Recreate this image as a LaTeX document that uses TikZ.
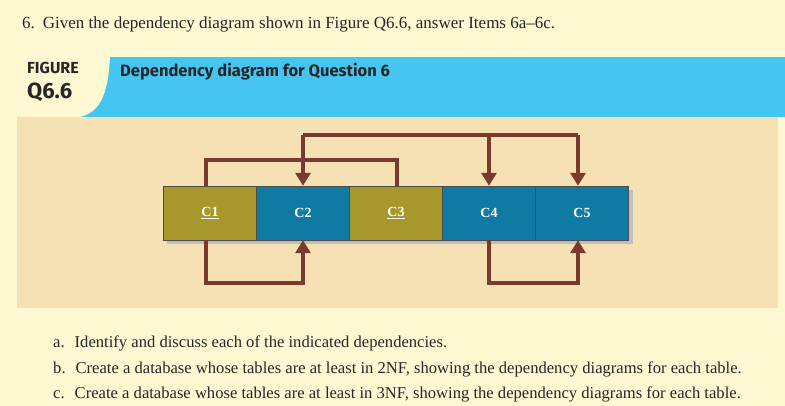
\documentclass[tikz,border=0pt]{standalone}
\usepackage{fontspec}
\setmainfont{Liberation Serif}
\newfontfamily\hdr{Fira Sans}
\usetikzlibrary{arrows.meta}
\definecolor{paper}{HTML}{FEF8D2}
\definecolor{band}{HTML}{45C6F2}
\definecolor{beige}{HTML}{F5E1B3}
\definecolor{olive}{HTML}{A8982C}
\definecolor{teal}{HTML}{0F7BA3}
\definecolor{arr}{HTML}{7B3A2E}
\tikzset{
  attr/.style={draw=black!70, minimum width=93pt, minimum height=54pt, inner sep=0pt, text=white, font=\bfseries\fontsize{14}{16}\selectfont},
  dep/.style={draw=arr, line width=4pt},
  deparr/.style={dep, -{Triangle[width=15pt,length=13pt]}},
  item/.style={anchor=west, font=\fontsize{16.6}{19}\selectfont, text=black!85, inner sep=0pt}
}
\begin{document}
\begin{tikzpicture}[x=1pt,y=-1pt]
\useasboundingbox (0,0) rectangle (785,406);
\fill[paper] (0,0) rectangle (785,406);
\fill[band] (17,57) rectangle (785,117);
\fill[paper] (17,57) -- (110,57) .. controls (108,95) and (100,112) .. (80,117) -- (17,117) -- cycle;
\fill[beige] (17,117) rectangle (778,308);
\node[item, font=\fontsize{17}{20}\selectfont] (q) at (22,24) {6.\hspace{8pt}Given the dependency diagram shown in Figure Q6.6, answer Items 6a--6c.};
\node[anchor=north west, inner sep=0pt, text=black!85, font=\hdr\bfseries\fontsize{16}{18}\selectfont] (fig) at (27,62) {FIGURE};
\node[anchor=north west, inner sep=0pt, text=black!85, font=\hdr\bfseries\fontsize{22}{24}\selectfont] (q66) at (27,83) {Q6.6};
\node[anchor=west, inner sep=0pt, text=black!85, font=\hdr\bfseries\fontsize{16.5}{19}\selectfont] (title) at (120,72) {Dependency diagram for Question 6};
\fill[black!25] (167,190) rectangle (633,244);
\node[attr, fill=olive] (c1) at (210,213) {\underline{C1}};
\node[attr, fill=teal] (c2) at (303,213) {C2};
\node[attr, fill=olive] (c3) at (396,213) {\underline{C3}};
\node[attr, fill=teal] (c4) at (489,213) {C4};
\node[attr, fill=teal] (c5) at (582,213) {C5};
\coordinate (t1) at (206,160); \coordinate (t3) at (397,160);
\draw[dep] ([xshift=-4pt]c1.north) -- ([xshift=-4pt]c1.north |- t1) -- (t3) -- (t3 |- c3.north);
\coordinate (u2) at (303,135); \coordinate (u5) at (578,135);
\draw[dep] (u2) -- (u5);
\draw[deparr] (u2) -- (c2.north);
\draw[deparr] (c4.north |- u2) -- (c4.north);
\draw[deparr] (u5) -- (u5 |- c5.north);
\coordinate (b1) at (206,283); \coordinate (b4) at (489,283);
\draw[deparr] ([xshift=-4pt]c1.south) -- (b1) -| (c2.south);
\draw[deparr] (c4.south) -- (b4) -| ([xshift=-4pt]c5.south);
\node[item] (ia) at (53,343) {a.\hspace{10pt}Identify and discuss each of the indicated dependencies.};
\node[item] (ib) at (53,369) {b.\hspace{10pt}Create a database whose tables are at least in 2NF, showing the dependency diagrams for each table.};
\node[item] (ic) at (53,394) {c.\hspace{10pt}Create a database whose tables are at least in 3NF, showing the dependency diagrams for each table.};
\end{tikzpicture}
\end{document}
